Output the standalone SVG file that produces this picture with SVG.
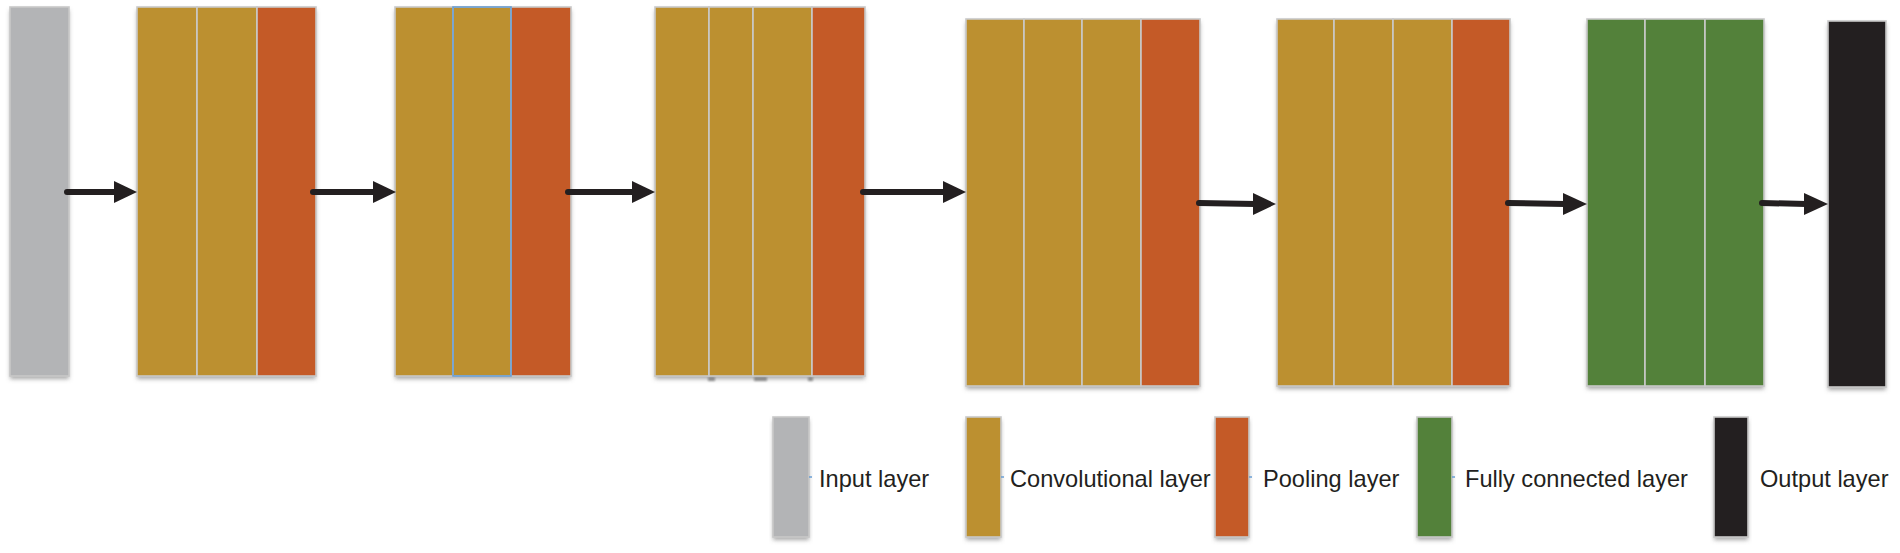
<svg xmlns="http://www.w3.org/2000/svg" width="1900" height="553" viewBox="0 0 1900 553">
<style>
.col{stroke:#c9c9c9;stroke-width:1.6}
.gray{fill:#b3b4b6}
.gold{fill:#bc9030}
.red{fill:#c45a27}
.green{fill:#53813a}
.black{fill:#231f20}
.shadow{fill:#ffffff;filter:url(#sh)}
.smudge{fill:#6a6a6a;opacity:0.7;filter:url(#blur)}
.lbl{font-family:"Liberation Sans",Arial,sans-serif;font-size:23.6px;fill:#231f20}
.tick{stroke:#6a9fd4;stroke-width:1.5}
.arr{stroke:#231f20;stroke-width:6;stroke-linecap:round;fill:none}
.head{fill:#231f20}
.blue{fill:none;stroke:#6a9fd4;stroke-width:1.6}
</style>
<defs>
<filter id="sh" x="-10%" y="-10%" width="120%" height="120%">
<feDropShadow dx="0" dy="3" stdDeviation="2" flood-color="#6e6e6e" flood-opacity="0.6"/>
</filter>
<filter id="blur" x="-50%" y="-100%" width="200%" height="300%">
<feGaussianBlur stdDeviation="1.2"/>
</filter>
</defs>
<rect width="1900" height="553" fill="#ffffff"/>

<g id="input">
<rect class="shadow" x="10" y="7" width="59" height="369"/>
<rect class="col gray" x="10" y="7" width="59" height="369"/>
</g>

<g id="block1">
<rect class="shadow" x="137" y="7" width="179" height="369"/>
<rect class="col gold" x="137" y="7" width="60" height="369"/>
<rect class="col gold" x="197" y="7" width="60" height="369"/>
<rect class="col red" x="257" y="7" width="59" height="369"/>
</g>

<g id="block2">
<rect class="shadow" x="395" y="7" width="176" height="369"/>
<rect class="col gold" x="395" y="7" width="58" height="369"/>
<rect class="col gold" x="453" y="7" width="58" height="369"/>
<rect class="col red" x="511" y="7" width="60" height="369"/>
<rect class="blue" x="453" y="7" width="58" height="369"/>
</g>

<g id="block3">
<rect class="shadow" x="655" y="7" width="210" height="369"/>
<rect class="smudge" x="708" y="377" width="7" height="4"/>
<rect class="smudge" x="754" y="377" width="13" height="4"/>
<rect class="smudge" x="808" y="377" width="5" height="4"/>
<rect class="col gold" x="655" y="7" width="54" height="369"/>
<rect class="col gold" x="709" y="7" width="44" height="369"/>
<rect class="col gold" x="753" y="7" width="59" height="369"/>
<rect class="col red" x="812" y="7" width="53" height="369"/>
</g>

<g id="block4">
<rect class="shadow" x="966" y="19" width="234" height="367"/>
<rect class="col gold" x="966" y="19" width="58" height="367"/>
<rect class="col gold" x="1024" y="19" width="58" height="367"/>
<rect class="col gold" x="1082" y="19" width="59" height="367"/>
<rect class="col red" x="1141" y="19" width="59" height="367"/>
</g>

<g id="block5">
<rect class="shadow" x="1277" y="19" width="233" height="367"/>
<rect class="col gold" x="1277" y="19" width="57" height="367"/>
<rect class="col gold" x="1334" y="19" width="59" height="367"/>
<rect class="col gold" x="1393" y="19" width="59" height="367"/>
<rect class="col red" x="1452" y="19" width="58" height="367"/>
</g>

<g id="fc">
<rect class="shadow" x="1587" y="19" width="177" height="367"/>
<rect class="col green" x="1587" y="19" width="58" height="367"/>
<rect class="col green" x="1645" y="19" width="60" height="367"/>
<rect class="col green" x="1705" y="19" width="59" height="367"/>
</g>

<g id="output">
<rect class="shadow" x="1828" y="21" width="58" height="366"/>
<rect class="col black" x="1828" y="21" width="58" height="366"/>
</g>

<g id="connectors">
<line class="arr" x1="67" y1="192" x2="116" y2="192"/>
<polygon class="head" points="114,181 137,192 114,203"/>
<line class="arr" x1="313" y1="192" x2="375" y2="192"/>
<polygon class="head" points="373,181 396,192 373,203"/>
<line class="arr" x1="568" y1="192" x2="634" y2="192"/>
<polygon class="head" points="632,181 655,192 632,203"/>
<line class="arr" x1="863" y1="192" x2="945" y2="192"/>
<polygon class="head" points="943,181 966,192 943,203"/>
<line class="arr" x1="1199" y1="203" x2="1255" y2="204"/>
<polygon class="head" points="1253,193 1276,204 1253,215"/>
<line class="arr" x1="1508" y1="203" x2="1565" y2="204"/>
<polygon class="head" points="1563,193 1587,204 1563,215"/>
<line class="arr" x1="1762" y1="203" x2="1806" y2="204"/>
<polygon class="head" points="1804,193 1828,204 1804,215"/>
</g>

<g id="legend-input">
<rect class="shadow" x="773" y="417" width="36" height="120"/>
<rect class="col gray" x="773" y="417" width="36" height="120"/>
<line class="tick" x1="809" y1="477" x2="812" y2="477"/>
<text class="lbl" x="819" y="487">Input layer</text>
</g>
<g id="legend-conv">
<rect class="shadow" x="966" y="417" width="35" height="120"/>
<rect class="col gold" x="966" y="417" width="35" height="120"/>
<line class="tick" x1="1001" y1="477" x2="1004" y2="477"/>
<text class="lbl" x="1010" y="487">Convolutional layer</text>
</g>
<g id="legend-pool">
<rect class="shadow" x="1215" y="417" width="34" height="120"/>
<rect class="col red" x="1215" y="417" width="34" height="120"/>
<line class="tick" x1="1249" y1="477" x2="1252" y2="477"/>
<text class="lbl" x="1263" y="487">Pooling layer</text>
</g>
<g id="legend-fc">
<rect class="shadow" x="1417" y="417" width="35" height="120"/>
<rect class="col green" x="1417" y="417" width="35" height="120"/>
<line class="tick" x1="1452" y1="477" x2="1455" y2="477"/>
<text class="lbl" x="1465" y="487">Fully connected layer</text>
</g>
<g id="legend-output">
<rect class="shadow" x="1714" y="417" width="34" height="120"/>
<rect class="col black" x="1714" y="417" width="34" height="120"/>
<text class="lbl" x="1760" y="487">Output layer</text>
</g>
</svg>
